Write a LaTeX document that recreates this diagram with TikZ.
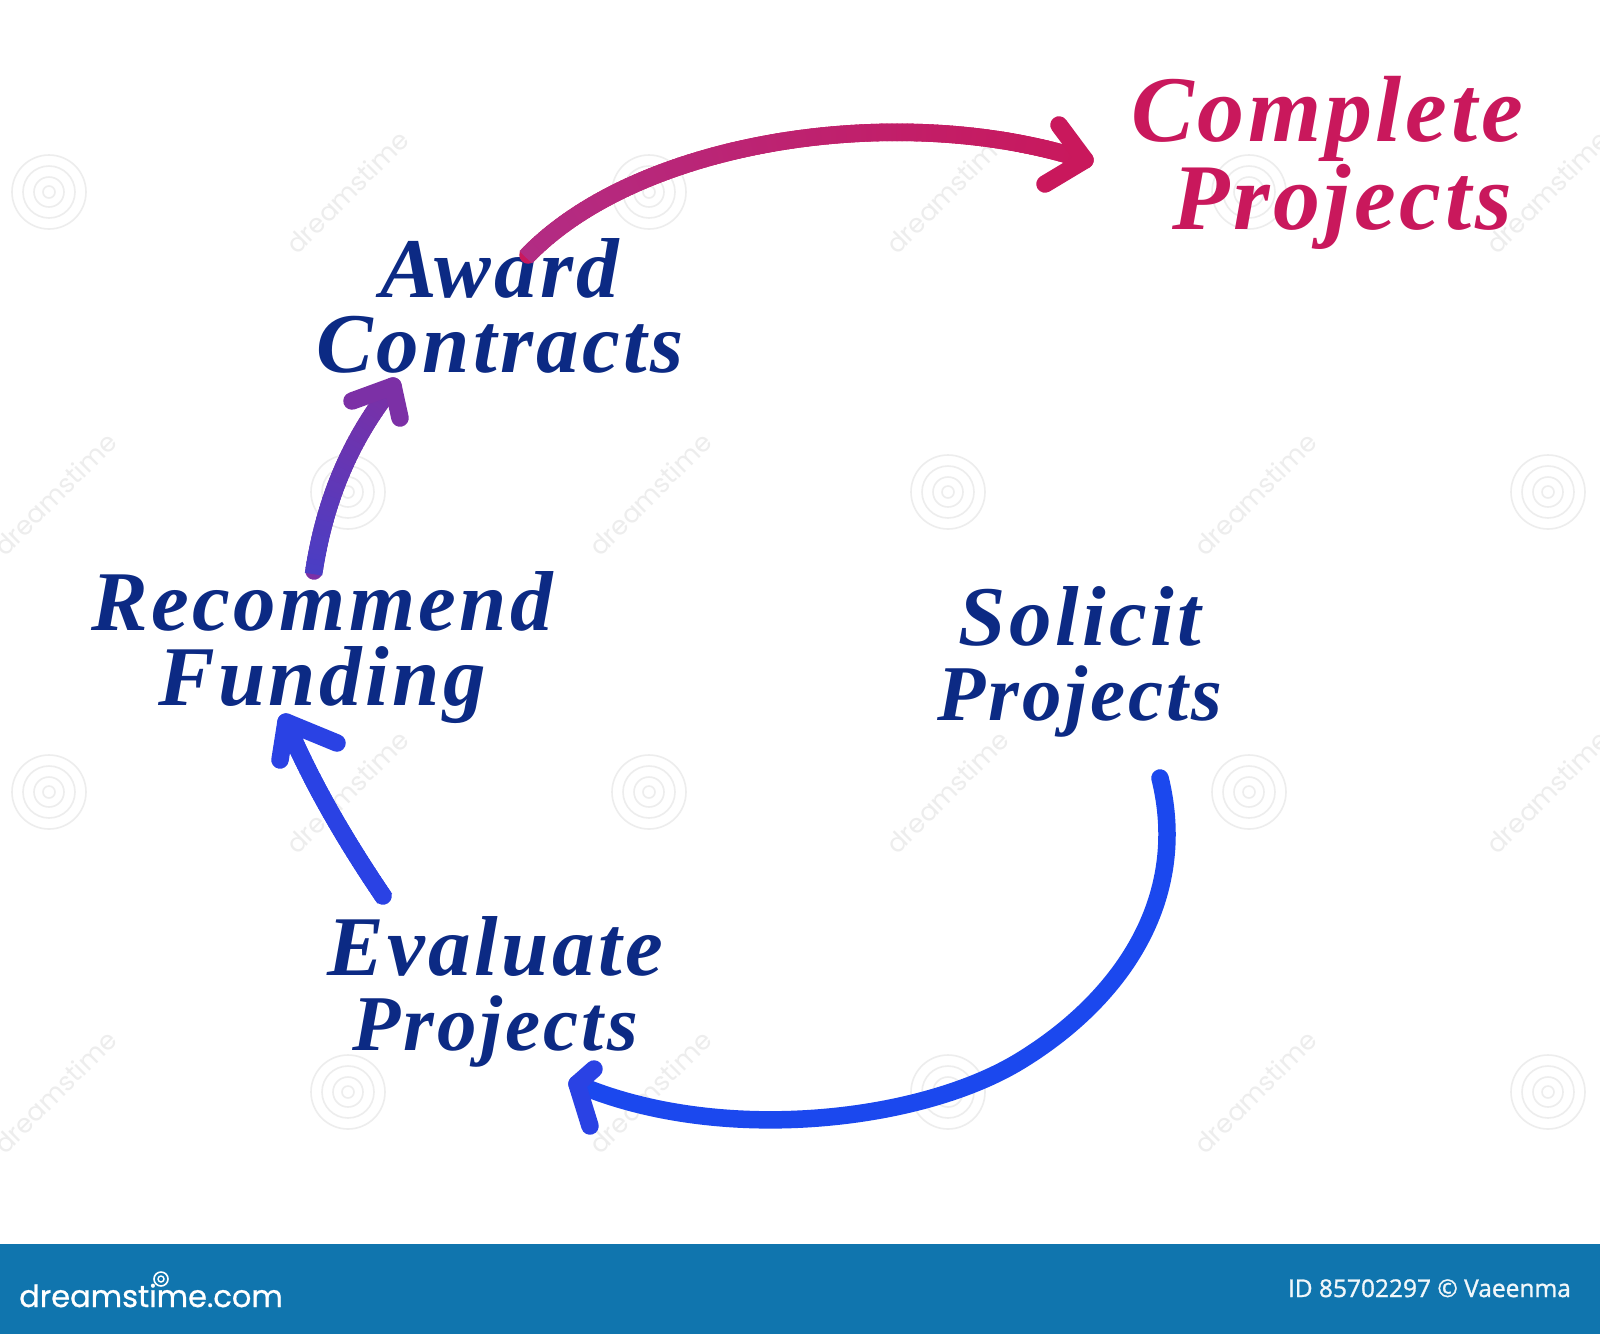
\documentclass[tikz,border=0pt]{standalone}
\usepackage{fontspec}
\setmainfont{Liberation Serif}
\newfontfamily\scriptish[LetterSpace=4]{Liberation Serif}
\newfontfamily\popp{Poppins}
\newfontfamily\poppb[FakeBold=0.8]{Poppins}
\newfontfamily\idfont[FakeBold=1.2]{Open Sans}
\newcommand{\tightline}[1]{{\fontsize{79}{75}\selectfont #1}}
\usetikzlibrary{decorations.markings}
\definecolor{navy}{HTML}{0C2A84}
\definecolor{crimson}{HTML}{C9185C}
\definecolor{barblue}{HTML}{1075AE}
\definecolor{arrblue}{HTML}{1B48EE}
\definecolor{arrblueb}{HTML}{2A42E4}
\definecolor{indigo}{HTML}{4A3EC4}
\definecolor{violet2}{HTML}{7C30A6}
\definecolor{magent}{HTML}{B22C84}
\tikzset{
  steplabel/.style={font=\scriptish\fontsize{85}{75}\selectfont\bfseries\itshape,text=navy,align=center,inner sep=0pt},
  goallabel/.style={font=\scriptish\fontsize{94}{88}\selectfont\bfseries\itshape,text=crimson,align=center,inner sep=0pt},
  flow/.style={line width=17.5pt,line cap=round,line join=round},
  grad/.style n args={2}{flow,draw=#2,postaction={decorate,decoration={markings,
    mark=between positions 0 and 0.995 step 5pt with {
      \pgfmathsetmacro\gp{100*(\pgfkeysvalueof{/pgf/decoration/mark info/distance from start}/\pgfdecoratedpathlength)}
      \draw[line width=17.5pt,line cap=butt,color={#2!\gp!#1}] (-3.2pt,0)--(3.2pt,0);
    }}}},
  wm/.style={line width=1.6pt,draw=black!7},
  wmtext/.style={font=\popp\fontsize{26}{26}\selectfont,text=black!7,rotate=45,inner sep=0pt},
  barname/.style={font=\poppb\fontsize{30.5}{31}\selectfont,text=white,inner sep=0pt},
  barid/.style={font=\idfont\fontsize{24.5}{25}\selectfont,text=white!94!barblue,inner sep=0pt}
}
\newcommand{\spiralmark}[2]{%
  \draw[wm] (#1,#2) circle (37pt);
  \draw[wm] (#1,#2) circle (26pt);
  \draw[wm] (#1,#2) circle (15pt);
  \draw[wm] (#1,#2) circle (6pt);
}
\begin{document}
\begin{tikzpicture}[x=1pt,y=-1pt]
\useasboundingbox (0,0) rectangle (1600,1334);
\fill[white] (0,0) rectangle (1600,1334);
% watermark
\foreach \x/\y in {49/192,649/192,1249/192,348/492,948/492,1548/492,49/792,649/792,1249/792,348/1092,948/1092,1548/1092}{\spiralmark{\x}{\y}}
\foreach \x/\y in {347/192,947/192,1547/192,55/494,650/494,1255/494,347/792,947/792,1547/792,55/1092,650/1092,1255/1092}{\node[wmtext] at (\x,\y) {dreamstime};}
% bar
\fill[barblue] (0,1244) rectangle (1600,1334);
\node[barname,anchor=base west] (brand) at (19,1307) {dreamstime.com};
\draw[white,line width=1.6pt] (161,1279) circle (7pt);
\draw[white,line width=1.4pt] (161,1279) circle (3pt);
\node[barid,anchor=base east] (idtext) at (1571,1297) {ID 85702297 © Vaeenma};
% labels
\node[goallabel] (complete) at (1327,163) {Complete\\\hspace*{30pt}Projects};
\node[steplabel] (award) at (500,306) {Award\\Contracts};
\node[steplabel] (recommend) at (322,648) {Recommend\\Funding};
\node[steplabel] (solicit) at (1080,662) {Solicit\\\tightline{Projects}};
\node[steplabel] (evaluate) at (495,992) {Evaluate\\\tightline{Projects}};
% anchors of the connectors
\coordinate (a0) at (528,255); \coordinate (a1) at (1085,160);
\coordinate (a2) at (1059,125); \coordinate (a3) at (1045,184);
\coordinate (b0) at (314,571); \coordinate (b1) at (393,386);
\coordinate (b2) at (352,401); \coordinate (b3) at (400,418);
\coordinate (c0) at (383,896); \coordinate (c1) at (286,722);
\coordinate (c2) at (280,760); \coordinate (c3) at (337,743);
\coordinate (d0) at (1160,778); \coordinate (dm) at (1020,1061); \coordinate (d1) at (577,1084);
\coordinate (d2) at (594,1069); \coordinate (d3) at (590,1126);
% connectors
\draw[grad={magent}{crimson}] (a0) .. controls (640,140) and (900,100) .. (a1);
\draw[flow,crimson] (a2) -- (a1) -- (a3);
\draw[grad={indigo}{violet2}] (b0) .. controls (325,500) and (350,440) .. (b1);
\draw[flow,violet2] (b2) -- (b1) -- (b3);
\draw[grad={arrblueb}{arrblueb}] (c0) .. controls (345,840) and (310,780) .. (c1);
\draw[flow,arrblueb] (c2) -- (c1) -- (c3);
\draw[flow,arrblue] (d0) .. controls (1190,900) and (1120,1000) .. (dm) .. controls (920,1122) and (720,1145) .. (d1);
\draw[flow,arrblueb] (d2) -- (d1) -- (d3);
\end{tikzpicture}
\end{document}
